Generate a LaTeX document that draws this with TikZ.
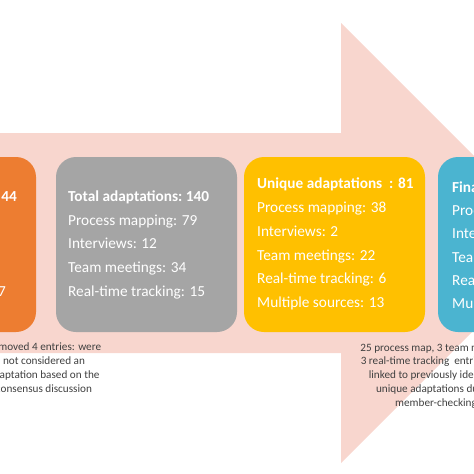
\documentclass[tikz,border=0pt]{standalone}
\usepackage{fontspec}
\setmainfont{Carlito}
\definecolor{arrowpink}{HTML}{F8D6CE}
\definecolor{boxorange}{HTML}{ED7D31}
\definecolor{boxgray}{HTML}{A5A5A5}
\definecolor{boxyellow}{HTML}{FFC000}
\definecolor{boxblue}{HTML}{4BB4D0}
\definecolor{captext}{HTML}{404040}
\tikzset{
  card/.style={rounded corners=20pt},
  cardtext/.style={anchor=base west, inner sep=0pt, text=white,
    font=\fontsize{15.3}{18}\selectfont},
  cardtitle/.style={cardtext, font=\fontsize{15.3}{18}\selectfont\bfseries},
  captiontext/.style={anchor=base, align=center, inner sep=0pt, text=captext,
    font=\fontsize{11.2}{13.7}\selectfont},
}
\begin{document}
\begin{tikzpicture}[x=1pt,y=-1pt]
\useasboundingbox (0,0) rectangle (474,474);
% big arrow
\fill[arrowpink] (-5,133) -- (341,133) -- (341,23) -- (561,243) -- (341,463) -- (341,353) -- (-5,353) -- cycle;
% cards
\fill[boxorange,card] (-150,157) rectangle (36,332);
\fill[boxgray,card] (56,157) rectangle (237,332);
\fill[boxyellow,card] (244,157) rectangle (425,332);
\fill[boxblue,card] (438,157) rectangle (620,332);
% orange text
\node[cardtitle, anchor=base east] (o1) at (17,201) {44};
\node[cardtext, anchor=base east] (o2) at (6,296) {7};
% gray text
\node[cardtitle] (g1) at (68,201) {Total adaptations:\ 140};
\node[cardtext] (g2) at (68,225) {Process mapping: 79};
\node[cardtext] (g3) at (68,248.5) {Interviews: 12};
\node[cardtext] (g4) at (68,272) {Team meetings: 34};
\node[cardtext] (g5) at (68,296) {Real-time tracking: 15};
% yellow text
\node[cardtitle] (y1) at (257,188) {Unique adaptations\ \ : 81};
\node[cardtext] (y2) at (257,212.5) {Process mapping: 38};
\node[cardtext] (y3) at (257,236) {Interviews: 2};
\node[cardtext] (y4) at (257,260) {Team meetings: 22};
\node[cardtext] (y5) at (257,283.5) {Real-time tracking: 6};
\node[cardtext] (y6) at (257,307) {Multiple sources: 13};
% blue text
\node[cardtitle] (b1) at (452,192) {Final adaptations:};
\node[cardtext] (b2) at (452,215) {Process mapping:};
\node[cardtext] (b3) at (452,238.5) {Interviews:};
\node[cardtext] (b4) at (452,262) {Team meetings:};
\node[cardtext] (b5) at (452,285) {Real-time tracking:};
\node[cardtext] (b6) at (452,308.5) {Multiple sources:};
% captions (base anchor = baseline of last line)
\node[captiontext] (capl) at (44,392) {Removed 4 entries: were\\not considered an\\adaptation based on the\\consensus discussion};
\node[captiontext] (capr) at (436,406) {25 process map, 3 team meeting,\\3 real-time tracking\ \ entries were\\linked to previously identified\\unique adaptations during\\member-checking};
\end{tikzpicture}
\end{document}
